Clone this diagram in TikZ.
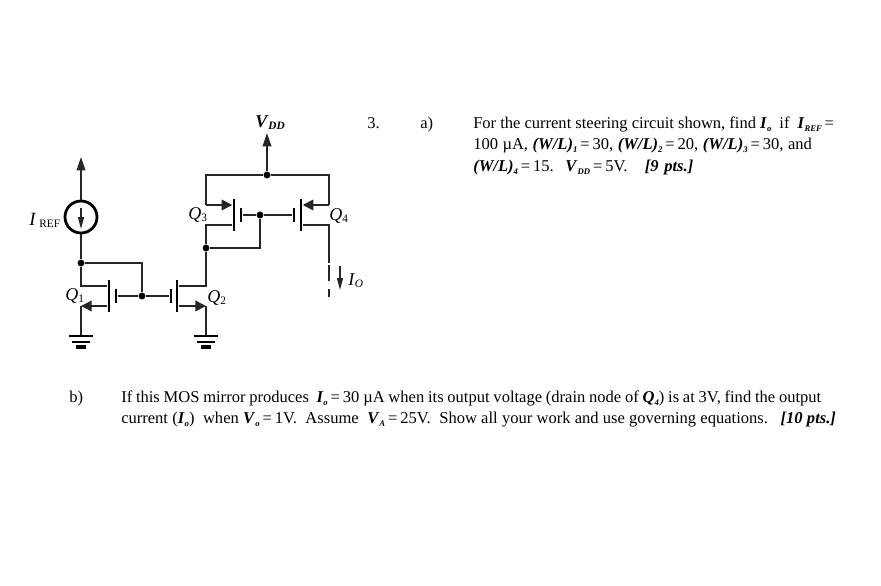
\documentclass[tikz,border=0pt]{standalone}
\usepackage{fontspec}
\setmainfont{Liberation Serif}
\usetikzlibrary{arrows.meta,calc}
\newcommand{\bsub}[2]{\textbf{\textit{#1}}\raisebox{-2.5pt}{\fontsize{6.5}{7}\selectfont\textbf{\textit{#2}}}}
\newcommand{\clab}[2]{\fontsize{13.5}{14}\selectfont\textit{#1}\raisebox{-2pt}{\fontsize{8.5}{10}\selectfont #2}}
\newcommand{\eqs}{\hspace{2.2pt}=\hspace{2.2pt}}
\tikzset{
	wire/.style={line width=1.15pt,black!85},
	thinwire/.style={line width=.8pt,black!85},
	tip/.style={-{Triangle[length=10pt,width=6.5pt]}},
	srctip/.style={-{Triangle[length=8pt,width=8pt]}},
	thintip/.style={-{Triangle[length=9pt,width=4.5pt]}},
	dot/.style={circle,fill=black,inner sep=0pt,minimum size=5.2pt},
	chan/.style={rectangle,fill=black,inner sep=0pt,minimum width=2.2pt,minimum height=24pt},
	gplate/.style={rectangle,fill=black,inner sep=0pt,minimum width=2.2pt,minimum height=11pt},
	txt/.style={anchor=base west,inner sep=0pt,font=\fontsize{12.4}{14}\selectfont},
	lab/.style={anchor=base west,inner sep=0pt}
}
\begin{document}
\begin{tikzpicture}[x=.75pt,y=-.75pt]
\useasboundingbox (0,0) rectangle (881,585);
% reference branch
\node[circle,draw,line width=2.1pt,inner sep=0pt,minimum size=24pt] (iref) at (81,217) {};
\node[dot] (nRef) at (81,263) {};
\coordinate (topRef) at (81,157);
\draw[wire,tip] (iref) -- (topRef);
\draw[wire] (iref) -- (nRef);
\coordinate (arrUp) at (81,208);
\coordinate (arrDn) at (81,229);
\draw[wire,thintip] (arrUp) -- (arrDn);
% transistors
\node[chan] (chA) at (109,296) {};
\node[chan] (chB) at (177,296) {};
\node[chan] (chC) at (234,215) {};
\node[chan] (chD) at (301,215) {};
\node[gplate] (gtA) at (116,296) {};
\node[gplate] (gtB) at (171,296) {};
\node[gplate] (gtC) at (241,215) {};
\node[gplate] (gtD) at (294,215) {};
\node[dot] (nLow) at (142,296) {};
\node[dot] (nHigh) at (260,215) {};
\node[dot] (nDrain) at (206,248) {};
\node[dot] (nVdd) at (267,175) {};
\coordinate (cornA) at (142,263);
\coordinate (cornB) at (260,248);
\coordinate (drA) at (81,286);
\coordinate (srA) at (81,306);
\coordinate (drB) at (206,286);
\coordinate (srB) at (206,306);
\coordinate (drC) at (206,225);
\coordinate (srC) at (206,205);
\coordinate (topC) at (206,175);
\coordinate (topD) at (329,175);
\coordinate (srD) at (329,205);
\coordinate (drD) at (329,225);
\coordinate (endD) at (329,263);
\coordinate (gndA) at (81,336);
\coordinate (gndB) at (206,336);
\coordinate (topVdd) at (267,133);
% gates
\draw[thinwire] (nRef) -- (cornA) -- (nLow);
\draw[wire] (gtA) -- (nLow) -- (gtB);
\draw[wire] (gtC) -- (nHigh);
\draw[thinwire] (nHigh) -- (gtD);
\draw[thinwire] (nHigh) -- (cornB) -- (nDrain);
% drains and sources
\draw[wire] (nRef) -- (drA) -- (chA.west |- drA);
\draw[wire,srctip] (chA.west |- srA) -- (srA);
\draw[wire] (srA) -- (gndA);
\draw[wire] (chB.east |- drB) -- (drB) -- (nDrain) -- (drC) -- (chC.west |- drC);
\draw[wire,srctip] (chB.east |- srB) -- (srB);
\draw[wire] (srB) -- (gndB);
\draw[wire,srctip] (srC) -- (chC.west |- srC);
\draw[wire] (srC) -- (topC) -- (nVdd) -- (topD) -- (srD);
\draw[wire,srctip] (srD) -- (chD.east |- srD);
\draw[wire] (chD.east |- drD) -- (drD) -- (endD);
\draw[wire,tip] (nVdd) -- (topVdd);
% grounds
\foreach \g in {gndA,gndB} {
	\draw[line width=1.9pt] ($(\g)+(-12,0)$) -- ++(24,0);
	\draw[line width=1.5pt] ($(\g)+(-9,6)$) -- ++(18,0);
	\draw[line width=2.3pt] ($(\g)+(-5,11)$) -- ++(10,0);
}
% output current
\coordinate (dashA) at (329,265);
\coordinate (dashB) at (329,281);
\coordinate (dashC) at (329,289);
\coordinate (dashD) at (329,297);
\draw[wire] (dashA) -- (dashB);
\draw[wire] (dashC) -- (dashD);
\coordinate (ioTop) at (340,266);
\coordinate (ioEnd) at (340,290);
\draw[wire,thintip] (ioTop) -- (ioEnd);
% labels
\node[lab] (lRef) at (29,225) {\fontsize{14}{14}\selectfont\textit{I}\,\raisebox{-1.5pt}{\fontsize{8.5}{10}\selectfont REF}};
\node[lab] (lVdd) at (255,127) {\fontsize{13.5}{14}\selectfont\textbf{\textit{V}}\raisebox{-2pt}{\fontsize{8.5}{10}\selectfont\textbf{\textit{DD}}}};
\node[lab] (lQa) at (65,300) {\clab{Q}{1}};
\node[lab] (lQb) at (207,302) {\clab{Q}{2}};
\node[lab] (lQc) at (188,219) {\clab{Q}{3}};
\node[lab] (lQd) at (329,220) {\clab{Q}{4}};
\node[lab] (lIo) at (348,285) {\fontsize{13.5}{14}\selectfont\textit{I}\raisebox{-2pt}{\fontsize{8.5}{10}\selectfont\textit{O}}};
% problem text
\node[txt] (num) at (367,128) {3.};
\node[txt] (partA) at (420,128) {a)};
\node[txt] (aOne) at (473,128) {\makebox[270.5pt][s]{For the current steering circuit shown, find \bsub{I}{o}\ \ if\ \ \bsub{I}{REF}\,=}};
\node[txt] (aTwo) at (473,149) {\makebox[254pt][s]{100 µA, \textbf{\textit{(W/L)}}\bsub{}{1}\eqs 30, \textbf{\textit{(W/L)}}\bsub{}{2}\eqs 20, \textbf{\textit{(W/L)}}\bsub{}{3}\eqs 30, and}};
\node[txt] (aThree) at (473,171) {\makebox[165pt][s]{\textbf{\textit{(W/L)}}\bsub{}{4}\eqs 15.\ \ \bsub{V}{DD}\eqs 5V.\ \ \ \textbf{\textit{[9 pts.]}}}};
\node[txt] (partB) at (69,402) {b)};
\node[txt] (bOne) at (121,402) {\makebox[525pt][s]{If this MOS mirror produces\ \ \bsub{I}{o}\eqs 30 µA when its output voltage (drain node of \bsub{Q}{4}) is at 3V, find the output}};
\node[txt] (bTwo) at (121,423) {\makebox[536pt][s]{current (\bsub{I}{o})\ \ when \bsub{V}{o}\eqs 1V.\ \ Assume\ \ \bsub{V}{A}\eqs 25V.\ \ Show all your work and use governing equations.\ \ \ \textbf{\textit{[10 pts.]}}}};
\end{tikzpicture}
\end{document}
